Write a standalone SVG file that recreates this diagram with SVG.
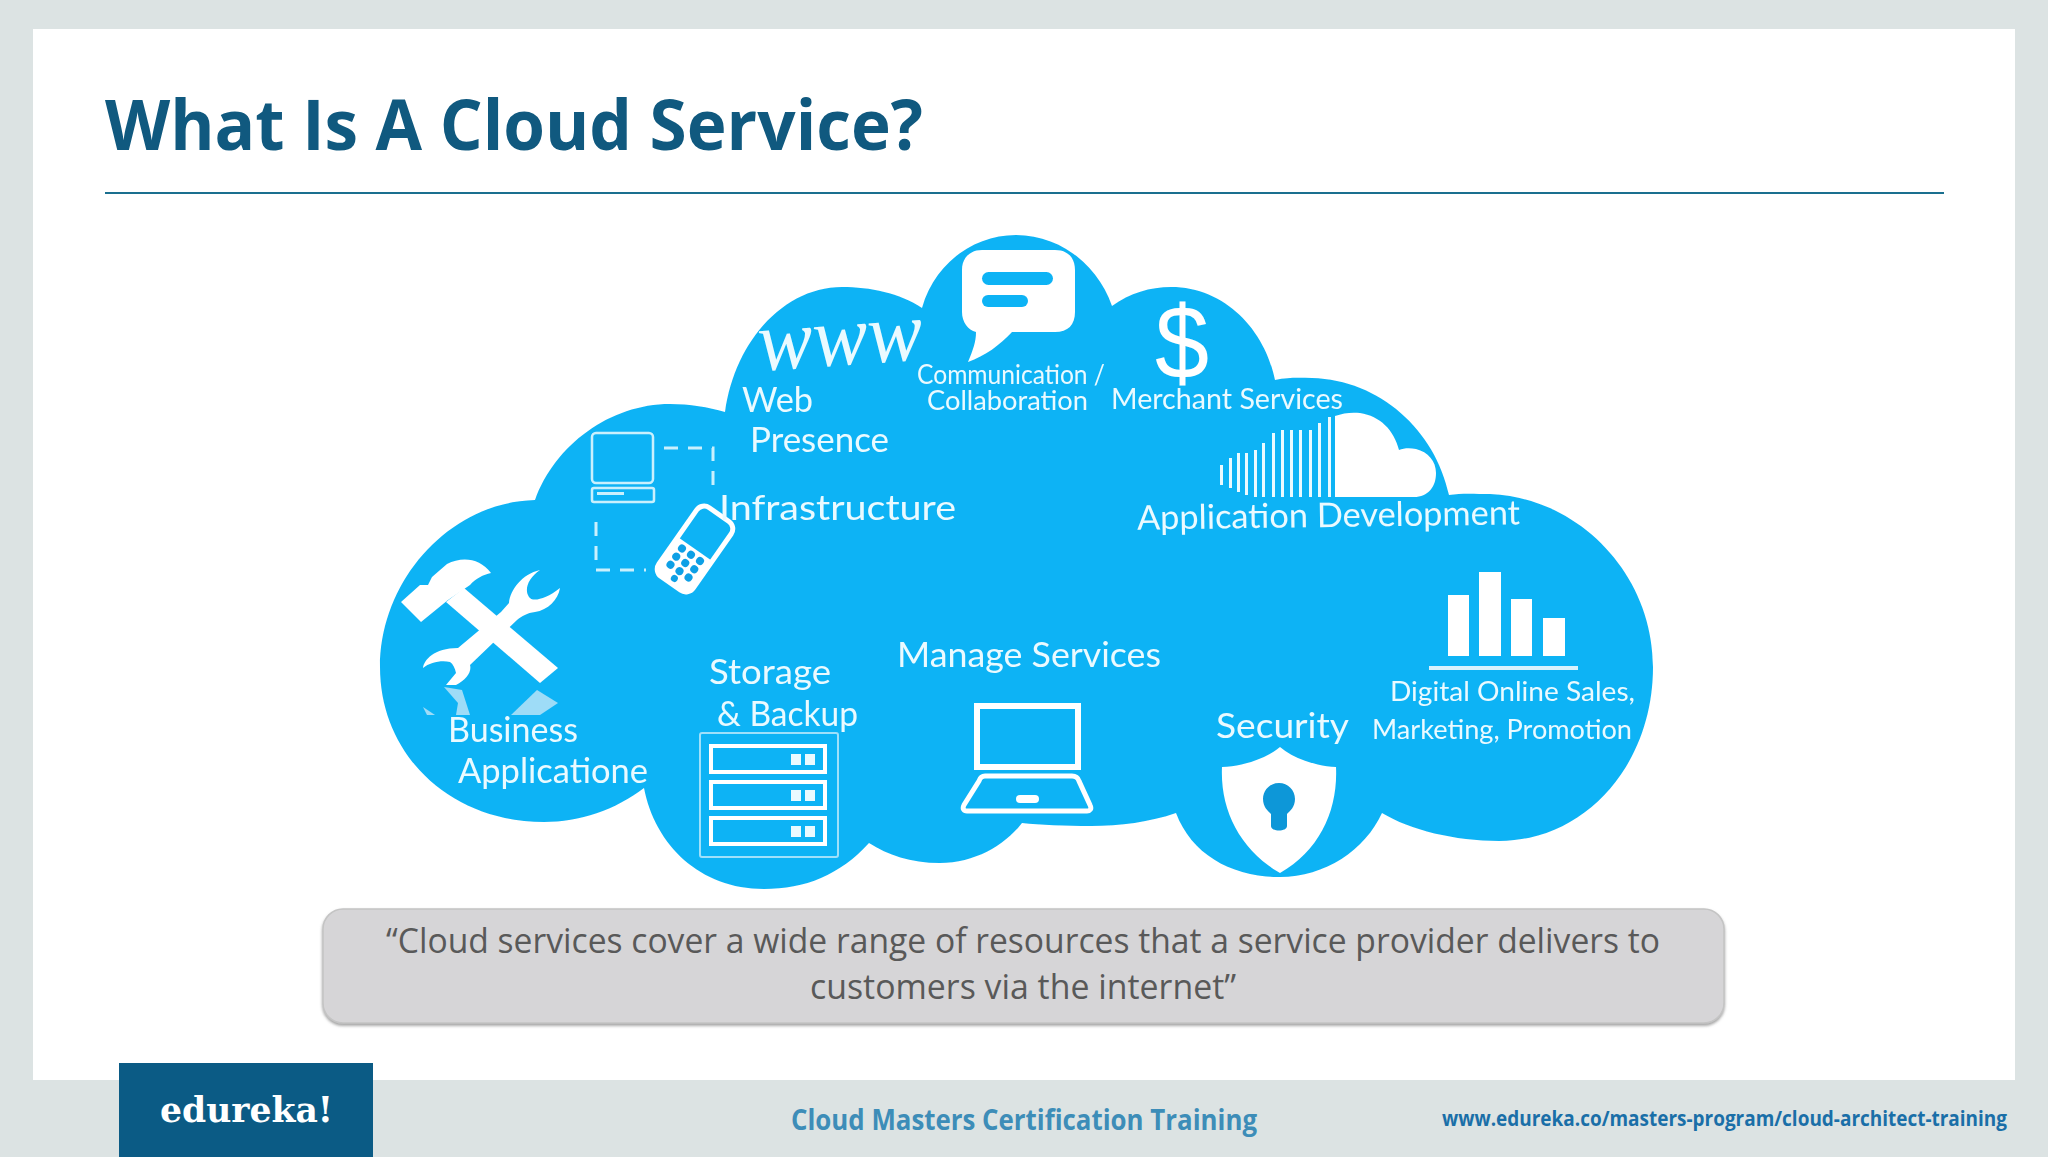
<svg xmlns="http://www.w3.org/2000/svg" width="2048" height="1157" viewBox="0 0 2048 1157">
<defs>
<filter id="soft" x="-5%" y="-5%" width="110%" height="110%"><feGaussianBlur stdDeviation="0.7"/></filter>
<filter id="shadow" x="-3%" y="-10%" width="106%" height="125%"><feDropShadow dx="0" dy="2" stdDeviation="1.5" flood-color="#777" flood-opacity="0.7"/></filter>
</defs>
<style>
.lbl{font-family:"Lato","Noto Sans",sans-serif;fill:#eafaff;font-size:34px;font-weight:400}
.w{fill:#fff}
.st{fill:none;stroke:#fff}
.pale{fill:none;stroke:#c9f0fd;stroke-width:2.5}
.dash{fill:none;stroke:#c9f0fd;stroke-width:3;stroke-dasharray:14 10}
.refl{fill:#9edcf7}
</style>
<rect width="2048" height="1157" fill="#dce3e3"/>
<rect x="33" y="29" width="1982" height="1051" fill="#fff"/>
<g id="title">
<text x="105" y="150" font-family="'Open Sans',sans-serif" font-weight="700" font-size="69" fill="#10597f" textLength="818" lengthAdjust="spacingAndGlyphs">What Is A Cloud Service?</text>
<line x1="105" y1="193" x2="1944" y2="193" stroke="#1a6f8f" stroke-width="2"/>
</g>
<g id="cloud" filter="url(#soft)">
<path id="cloud-shape" fill="#11b3f5" d="M922 308C935 262 975 235 1016 235C1060 235 1098 265 1112 306C1130 293 1150 287 1171 287C1225 287 1265 330 1275 380C1290 377 1300 378 1312 378C1380 380 1435 430 1449 495C1462 493 1475 494 1490 494C1580 498 1653 575 1653 667C1653 765 1585 841 1499 841C1455 841 1410 830 1382 813C1365 850 1325 877 1280 877C1232 877 1192 855 1176 813C1150 822 1120 826 1091 826C1065 826 1040 825 1022 823C1005 845 975 863 940 863C910 863 888 855 869 843C840 875 805 889 764 889C700 889 655 845 644 788C615 810 580 822 544 822C450 822 380 755 380 667C380 580 450 502 535 500C555 445 610 404 670 404C690 404 708 407 725 412C735 340 785 287 842 287C870 287 900 293 922 308Z"/>
<g id="node-web">
<text x="758" y="365" font-family="'Liberation Serif',serif" font-style="italic" font-size="86" fill="#eafaff" textLength="165" lengthAdjust="spacingAndGlyphs" transform="rotate(-4 840 345)">www</text>
<text class="lbl" x="742" y="412" textLength="71" lengthAdjust="spacingAndGlyphs">Web</text>
<text class="lbl" x="750" y="452" textLength="139" lengthAdjust="spacingAndGlyphs">Presence</text>
</g>
<g id="node-communication">
<path class="w" d="M982 250H1055C1068 250 1075 258 1075 270V312C1075 325 1068 332 1055 332H1012C1000 345 985 356 968 362C973 350 976 342 976 332C968 330 962 322 962 312V270C962 258 970 250 982 250Z"/>
<rect x="982" y="272" width="71" height="13" rx="6.5" fill="#11b3f5"/>
<rect x="982" y="295" width="46" height="12" rx="6" fill="#11b3f5"/>
<text class="lbl" style="font-size:26px" x="917" y="384" textLength="188" lengthAdjust="spacingAndGlyphs">Communication /</text>
<text class="lbl" style="font-size:26px" x="927" y="410" textLength="161" lengthAdjust="spacingAndGlyphs">Collaboration</text>
</g>
<g id="node-merchant">
<text x="1155" y="378" font-family="'Liberation Sans',sans-serif" font-size="104" fill="#fff" textLength="54" lengthAdjust="spacingAndGlyphs">$</text>
<text class="lbl" style="font-size:28px" x="1111" y="409" textLength="232" lengthAdjust="spacingAndGlyphs">Merchant Services</text>
</g>
<g id="node-appdev">
<g fill="#eafaff">
<rect x="1220" y="465" width="3" height="20"/><rect x="1229" y="458" width="3" height="30"/><rect x="1237" y="453" width="3" height="39"/><rect x="1245" y="453" width="3" height="42"/><rect x="1254" y="450" width="3" height="47"/><rect x="1262" y="443" width="3" height="54"/><rect x="1272" y="433" width="3" height="64"/><rect x="1281" y="430" width="3" height="67"/><rect x="1290" y="430" width="3" height="67"/><rect x="1299" y="430" width="3" height="67"/><rect x="1309" y="430" width="3" height="67"/><rect x="1318" y="423" width="3" height="74"/><rect x="1328" y="417" width="3" height="80"/>
</g>
<path class="w" d="M1335 497V416C1343 413 1352 412 1360 413C1380 416 1394 430 1399 450C1404 448 1410 448 1416 449C1428 452 1436 461 1436 473C1436 487 1428 497 1414 497Z"/>
<text class="lbl" x="1137" y="527" textLength="383" lengthAdjust="spacingAndGlyphs" transform="rotate(-0.8 1328 515)">Application Development</text>
</g>
<g id="node-infrastructure">
<rect class="pale" x="592" y="433" width="61" height="50" rx="4"/>
<rect class="pale" x="592" y="488" width="62" height="14" rx="2"/>
<rect x="597" y="492" width="27" height="3" fill="#c9f0fd"/>
<path class="dash" d="M664 448H713V493"/>
<path class="dash" d="M596 522V570H646"/>
<g transform="translate(695 549) rotate(35)">
<rect x="-21" y="-42" width="42" height="84" rx="9" fill="#11b3f5" stroke="#fff" stroke-width="5"/>
<path class="w" d="M-21 0H21V33C21 39 17 42 12 42H-12C-17 42 -21 39 -21 33Z"/>
<g fill="#11a0e6"><circle cx="-11" cy="7" r="4"/><circle cx="0" cy="7" r="4"/><circle cx="11" cy="7" r="4"/><circle cx="-11" cy="17" r="4"/><circle cx="0" cy="17" r="4"/><circle cx="11" cy="17" r="4"/><circle cx="-11" cy="27" r="4"/><circle cx="0" cy="27" r="4"/><circle cx="11" cy="27" r="4"/><circle cx="0" cy="36" r="3.5"/></g>
</g>
<text class="lbl" x="719" y="520" textLength="237" lengthAdjust="spacingAndGlyphs">Infrastructure</text>
</g>
<g id="node-business">
<path class="refl" d="M511 715L537 690L558 703L540 715Z"/>
<path class="refl" d="M444 687L462 690L470 715L456 715L458 703Z"/>
<path class="refl" d="M423 707L435 715H427Z"/>
<path class="w" d="M446 602L464 588L558 668L540 683Z"/>
<path class="w" d="M401 602L421 622L448 600L470 585C476 578 483 575 491 573C480 558 462 556 447 564L432 577L428 585L420 585Z"/>
<path class="w" d="M501 612L509 603C510 590 522 574 540 570C528 578 524 590 529 597C532 602 545 600 560 588C558 600 548 610 535 612C527 613 522 616 517 620L470 665C472 672 466 680 456 685L446 685L456 673C455 668 453 664 450 662C442 660 430 662 423 668C424 660 434 648 458 648Z"/>
<text class="lbl" x="448" y="742" textLength="130" lengthAdjust="spacingAndGlyphs">Business</text>
<text class="lbl" x="458" y="783" textLength="190" lengthAdjust="spacingAndGlyphs">Applicatione</text>
</g>
<g id="node-storage">
<text class="lbl" x="709" y="684" textLength="122" lengthAdjust="spacingAndGlyphs">Storage</text>
<text class="lbl" x="717" y="726" textLength="141" lengthAdjust="spacingAndGlyphs">&amp; Backup</text>
<rect x="700" y="733" width="138" height="124" fill="none" stroke="#9fe0fa" stroke-width="2" rx="2"/>
<rect class="st" x="711" y="746" width="114" height="26" stroke-width="4"/>
<rect class="st" x="711" y="782" width="114" height="26" stroke-width="4"/>
<rect class="st" x="711" y="818" width="114" height="26" stroke-width="4"/>
<g fill="#eafaff"><rect x="791" y="754" width="10" height="11"/><rect x="805" y="754" width="10" height="11"/><rect x="791" y="790" width="10" height="11"/><rect x="805" y="790" width="10" height="11"/><rect x="791" y="826" width="10" height="11"/><rect x="805" y="826" width="10" height="11"/></g>
</g>
<g id="node-manage">
<text class="lbl" x="897" y="667" textLength="264" lengthAdjust="spacingAndGlyphs">Manage Services</text>
<rect class="st" x="977" y="706" width="101" height="61" stroke-width="6"/>
<path class="st" stroke-width="5" d="M985 776H1072C1076 776 1078 778 1079 781L1090 805C1092 809 1090 811 1087 811H967C964 811 962 809 964 805L979 781C980 778 982 776 985 776Z"/>
<rect x="1016" y="795" width="23" height="8" rx="4" class="w"/>
</g>
<g id="node-security">
<text class="lbl" x="1216" y="738" textLength="133" lengthAdjust="spacingAndGlyphs">Security</text>
<path class="w" d="M1280 747C1293 758 1315 766 1336 767C1338 810 1320 850 1280 873C1240 850 1220 810 1222 767C1245 766 1267 758 1280 747Z"/>
<path fill="#1197d8" d="M1279 783C1288 783 1295 790 1295 799C1295 807 1290 811 1287 814V826C1287 832 1271 832 1271 826V814C1268 811 1263 807 1263 799C1263 790 1270 783 1279 783Z"/>
</g>
<g id="node-digital">
<g class="w"><rect x="1448" y="595" width="21" height="61"/><rect x="1479" y="572" width="22" height="84"/><rect x="1511" y="599" width="21" height="57"/><rect x="1543" y="618" width="22" height="38"/></g>
<rect x="1429" y="666" width="149" height="4" fill="#d8f2fd"/>
<text class="lbl" style="font-size:27px" x="1390" y="701" textLength="245" lengthAdjust="spacingAndGlyphs">Digital Online Sales,</text>
<text class="lbl" style="font-size:27px" x="1372" y="739" textLength="260" lengthAdjust="spacingAndGlyphs">Marketing, Promotion</text>
</g>
</g>
<g id="callout">
<rect x="323" y="909" width="1401" height="114" rx="20" fill="#d6d5d7" stroke="#c4c4c4" stroke-width="1.5" filter="url(#shadow)"/>
<text x="1023" y="953" text-anchor="middle" font-family="'Open Sans',sans-serif" font-size="34" fill="#595959" textLength="1274" lengthAdjust="spacingAndGlyphs">“Cloud services cover a wide range of resources that a service provider delivers to</text>
<text x="1023" y="999" text-anchor="middle" font-family="'Open Sans',sans-serif" font-size="34" fill="#595959" textLength="426" lengthAdjust="spacingAndGlyphs">customers via the internet”</text>
</g>
<g id="footer">
<rect x="119" y="1063" width="254" height="94" fill="#0b5b85"/>
<text x="160" y="1122" font-family="'DejaVu Serif',serif" font-weight="700" font-size="36" fill="#fff" textLength="173" lengthAdjust="spacingAndGlyphs">edureka!</text>
<text x="791" y="1130" font-family="'Open Sans',sans-serif" font-weight="700" font-size="28" fill="#3d8db8" textLength="466" lengthAdjust="spacingAndGlyphs">Cloud Masters Certification Training</text>
<text x="1442" y="1126" font-family="'Open Sans',sans-serif" font-weight="700" font-size="21" fill="#1a6fa8" textLength="565" lengthAdjust="spacingAndGlyphs">www.edureka.co/masters-program/cloud-architect-training</text>
</g>
<g id="connectors"/>
</svg>
